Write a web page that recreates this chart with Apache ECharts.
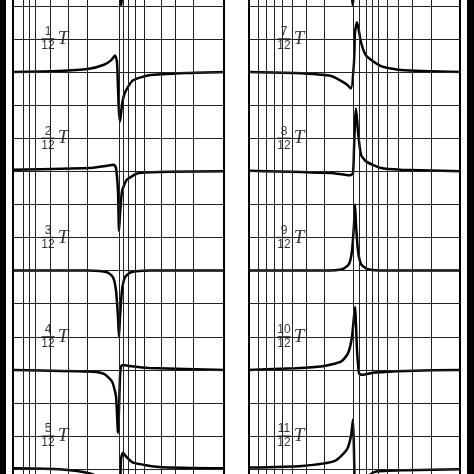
<!DOCTYPE html>
<html>
<head>
<meta charset="utf-8">
<script src="https://cdn.jsdelivr.net/npm/echarts@6/dist/echarts.min.js"></script>
<style>html,body{margin:0;padding:0;background:#fff}#main{width:474px;height:474px}</style>
</head>
<body>
<div id="main"></div>
<script>
// 曲线数据：[x, 相对基线的偏移]（单位：横向像素刻度 / 纵向网格格数）
var leftCurves = [
  [[-106,0],[-10,0.3],[-3,0.6],[-1,1.0],[0,0],[2,-1.0],[4,-0.6],[10,-0.3],[30,-0.1],[106,0]],
  [[-106,0],[-60,0.03],[-30,0.1],[-15,0.22],[-8,0.35],[-4,0.5],[-2,0.3],[-1,-0.5],[0,-1.2],[1,-1.5],[3,-1.0],[5,-0.7],[8,-0.5],[14,-0.25],[30,-0.1],[68,-0.03],[106,0]],
  [[-106,0.05],[-30,0.1],[-9,0.18],[-5,0.2],[-3,0.1],[-1,-0.6],[0,-1.8],[1,-1.3],[3,-0.6],[6,-0.35],[8,-0.25],[20,-0.05],[106,0]],
  [[-106,0],[-30,0],[-12,-0.05],[-6,-0.2],[-3,-0.6],[-1,-1.4],[0,-2.0],[1,-1.4],[3,-0.6],[6,-0.2],[12,-0.05],[30,0],[106,0]],
  [[-106,0],[-30,-0.05],[-15,-0.12],[-7,-0.35],[-3,-0.8],[-1,-1.9],[0,-1.2],[1,-0.2],[2,0.1],[4,0.15],[10,0.12],[30,0.06],[106,0]],
  [[-106,0.03],[-60,0],[-30,-0.12],[-10,-0.4],[-3,-0.9],[0,-1.5],[2,0.3],[4,0.5],[8,0.35],[14,0.2],[40,0.07],[106,0.03]]
];
var rightCurves = [
  [[-106,0],[-10,-0.3],[-4,-0.6],[-2,-1.0],[0,0],[1,1.0],[3,0.6],[10,0.3],[30,0.1],[106,0]],
  [[-106,0],[-60,-0.03],[-24,-0.12],[-9,-0.36],[-4,-0.5],[-1,0.3],[0,1.2],[2,1.5],[6,0.9],[11,0.5],[26,0.18],[46,0.06],[106,0]],
  [[-106,0.02],[-24,-0.05],[-5,-0.12],[-2,-0.05],[-1,0.7],[0,1.5],[1,1.9],[3,1.2],[6,0.5],[11,0.3],[26,0.1],[46,0.05],[106,0]],
  [[-106,0],[-30,0],[-12,0.05],[-6,0.2],[-3,0.6],[-1,1.4],[0,2.0],[1,1.4],[3,0.6],[6,0.2],[12,0.05],[30,0],[106,0]],
  [[-106,0],[-60,0.05],[-34,0.1],[-14,0.25],[-7,0.5],[-3,1.0],[0,1.9],[2,0.6],[4,-0.1],[7,-0.15],[20,-0.08],[50,-0.03],[106,0]],
  [[-106,0.05],[-53,0.1],[-20,0.25],[-8,0.6],[-4,1.0],[-2,1.5],[-1,0.5],[0,-1.0],[2,-1.6],[5,-0.9],[10,-0.3],[20,-0.08],[50,-0.03],[106,0]]
];
var offsets = [3, 0, -3, -6, -9, -12];
var leftLabels = ['', '1', '2', '3', '4', '5'];
var rightLabels = ['', '7', '8', '9', '10', '11'];
var leftVLines = [-96,-90,-84,-69,-51,-32,0,4,9,16,25,42,56,74];
var rightVLines = [-97,-89,-81,-73,-63,-49,-31,-2,4,11,17,23,32,43,57,76];
var hLines = [-12,-11,-10,-9,-8,-7,-6,-5,-4,-3,-2,-1,0,1,2];
var xMin = -106, xMax = 105;
var unit = 33.1;
var yMax = 72 / unit, yMin = -(474 - 72) / unit;

var chart = echarts.init(document.getElementById('main'));
var series = [];

function panel(idx, curves, labels, vlines) {
  // 网格线与边框
  var ml = vlines.map(function (v) { return { xAxis: v }; });
  hLines.forEach(function (h) { ml.push({ yAxis: h }); });
  ml.push({ xAxis: xMin, lineStyle: { width: 2, color: '#000' } });
  ml.push({ xAxis: xMax, lineStyle: { width: 2, color: '#000' } });
  series.push({
    type: 'line', xAxisIndex: idx, yAxisIndex: idx, data: [], z: 1, silent: true,
    markLine: { symbol: 'none', silent: true, label: { show: false },
      lineStyle: { color: '#222', width: 1, type: 'solid' }, data: ml }
  });
  // 标签白底
  var boxes = [], bars = [], ts = [];
  labels.forEach(function (l, i) {
    if (!l) return;
    boxes.push([-64, offsets[i] + 1]);
    bars.push({ value: [-71, offsets[i] + 1], num: l });
    ts.push([-56, offsets[i] + 1]);
  });
  series.push({
    type: 'scatter', xAxisIndex: idx, yAxisIndex: idx, data: boxes, z: 2, silent: true,
    symbol: 'rect', symbolSize: [74, 34], itemStyle: { color: '#fff' }
  });
  curves.forEach(function (c, i) {
    series.push({
      type: 'line', xAxisIndex: idx, yAxisIndex: idx, z: 3, silent: true,
      showSymbol: false, smooth: 0.2,
      lineStyle: { color: '#000', width: 2.5 },
      data: c.map(function (p) { return [p[0], p[1] + offsets[i]]; })
    });
  });
  series.push({
    type: 'scatter', xAxisIndex: idx, yAxisIndex: idx, z: 4, silent: true,
    symbol: 'rect', symbolSize: [13, 1.3], itemStyle: { color: '#000' },
    data: bars,
    label: { show: true, position: 'inside', color: '#000',
      formatter: function (p) { return '{n|' + p.data.num + '}\n{d|12}'; },
      rich: { n: { fontSize: 12, lineHeight: 14, fontFamily: 'Liberation Sans', color: '#000' },
              d: { fontSize: 12, lineHeight: 14, fontFamily: 'Liberation Sans', color: '#000' } } }
  });
  series.push({
    type: 'scatter', xAxisIndex: idx, yAxisIndex: idx, z: 4, silent: true,
    symbolSize: 0, data: ts,
    label: { show: true, position: 'inside', formatter: 'T', color: '#000',
      fontFamily: 'Liberation Serif', fontStyle: 'italic', fontSize: 19 }
  });
}
panel(0, leftCurves, leftLabels, leftVLines);
panel(1, rightCurves, rightLabels, rightVLines);

function xa(i) { return { type: 'value', gridIndex: i, min: xMin, max: xMax, show: false }; }
function ya(i) { return { type: 'value', gridIndex: i, min: yMin, max: yMax, show: false }; }
chart.setOption({
  animation: false,
  grid: [
    { left: 13, width: 211, top: 0, height: 474 },
    { left: 249, width: 211, top: 0, height: 474 }
  ],
  xAxis: [xa(0), xa(1)],
  yAxis: [ya(0), ya(1)],
  graphic: [
    { type: 'rect', shape: { x: 0, y: 0, width: 6, height: 474 }, style: { fill: '#000' } },
    { type: 'rect', shape: { x: 467, y: 0, width: 7, height: 474 }, style: { fill: '#000' } }
  ],
  series: series
});
</script>
</body>
</html>
